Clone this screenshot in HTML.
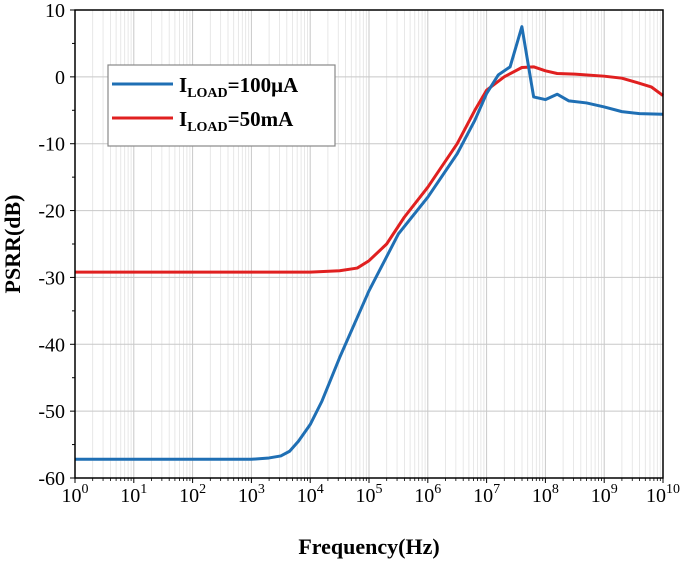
<!DOCTYPE html>
<html><head><meta charset="utf-8"><style>
body{margin:0;background:#fff}
svg{display:block;font-family:"Liberation Serif",serif}
</style></head><body>
<svg id="c" width="685" height="562"></svg>
<script>
const decades=[0,1,2,3,4,5,6,7,8,9,10];
const yTicks=[10,0,-10,-20,-30,-40,-50,-60];
const blueLogF=[0,1,2,3,3.3,3.5,3.65,3.8,4,4.2,4.5,5,5.5,6,6.5,6.8,7,7.2,7.4,7.6,7.8,8,8.2,8.4,8.7,9,9.3,9.6,10];
const blueDb=[-57.2,-57.2,-57.2,-57.2,-57,-56.7,-56,-54.5,-52,-48.5,-42,-32,-23.5,-18,-11.5,-6.5,-2.5,0.3,1.5,7.5,-3,-3.4,-2.6,-3.6,-3.9,-4.5,-5.2,-5.5,-5.6];
const redLogF=[0,1,2,3,4,4.5,4.8,5,5.3,5.6,6,6.5,6.8,7,7.3,7.6,7.8,8,8.2,8.5,9,9.3,9.5,9.8,10];
const redDb=[-29.2,-29.2,-29.2,-29.2,-29.2,-29,-28.6,-27.5,-25,-21,-16.5,-10,-5,-2,0,1.4,1.5,0.9,0.5,0.4,0.1,-0.2,-0.7,-1.5,-2.8];
const L=75,R=663,T=10,B=478;
const X=v=>L+(R-L)*v/10, Y=v=>T+(B-T)*(10-v)/70;
const s=document.getElementById('c'),NS='http://www.w3.org/2000/svg';
function el(t,a,p){const e=document.createElementNS(NS,t);for(const k in a)e.setAttribute(k,a[k]);(p||s).appendChild(e);return e;}
const grid=el('g',{});


for(let d=0;d<10;d++)for(let m=2;m<10;m++){const x=X(d+Math.log10(m));el('line',{x1:x,x2:x,y1:T,y2:B,stroke:'#e2e2e2','stroke-width':0.8},grid);}
decades.forEach(d=>{const x=X(d);el('line',{x1:x,x2:x,y1:T,y2:B,stroke:'#c8c8c8','stroke-width':1},grid);
 el('line',{x1:x,x2:x,y1:B,y2:B+5,stroke:'#000','stroke-width':1});
 const t=el('text',{x:x,y:B+24,'font-size':20,'text-anchor':'middle'});
 
 
 t.innerHTML='10<tspan dy="-9" font-size="14">'+d+'</tspan>';});
for(let d=0;d<10;d++)for(let m=2;m<10;m++){const x=X(d+Math.log10(m));el('line',{x1:x,x2:x,y1:B,y2:B+3,stroke:'#000','stroke-width':0.8});}
yTicks.forEach(v=>{const y=Y(v);el('line',{x1:L,x2:R,y1:y,y2:y,stroke:'#c8c8c8','stroke-width':1},grid);
 el('line',{x1:L-5,x2:L,y1:y,y2:y,stroke:'#000','stroke-width':1});
 const t=el('text',{x:L-10,y:y+7,'font-size':20,'text-anchor':'end'});
 
 
 t.textContent=v;});
for(let v=-55;v<10;v+=10)el('line',{x1:L-3,x2:L,y1:Y(v),y2:Y(v),stroke:'#000','stroke-width':1});
function series(xs,ys,c,n){const p=el('polyline',{points:xs.map((x,i)=>X(x)+','+Y(ys[i])).join(' '),fill:'none',stroke:c,'stroke-width':3,'stroke-linejoin':'round'});
 
 }
series(redLogF,redDb,'#e02020','series-50ma');
series(blueLogF,blueDb,'#1f6fb4','series-100ua');
const fr=el('rect',{x:L,y:T,width:R-L,height:B-T,fill:'none',stroke:'#000','stroke-width':1.5});


const lg=el('g',{});


el('rect',{x:108,y:65,width:227,height:81,fill:'#fff',stroke:'#888','stroke-width':1.2},lg);
[['#1f6fb4','100μA',92],['#e02020','50mA',126]].forEach(([c,lab,y])=>{
 el('line',{x1:112,x2:173,y1:y-8,y2:y-8,stroke:c,'stroke-width':3},lg);
 const t=el('text',{x:179,y:y,'font-size':21,'font-weight':'bold'},lg);
 
 
 t.innerHTML='I<tspan dy="5" font-size="14">LOAD</tspan><tspan dy="-5">='+lab+'</tspan>';});
const xt=el('text',{x:(L+R)/2,y:554,'font-size':22,'font-weight':'bold','text-anchor':'middle'});


xt.textContent='Frequency(Hz)';
const yt=el('text',{x:0,y:0,'font-size':22,'font-weight':'bold','text-anchor':'middle',transform:'translate(20,'+(T+B)/2+') rotate(-90)'});


yt.textContent='PSRR(dB)';
</script>
</body></html>
